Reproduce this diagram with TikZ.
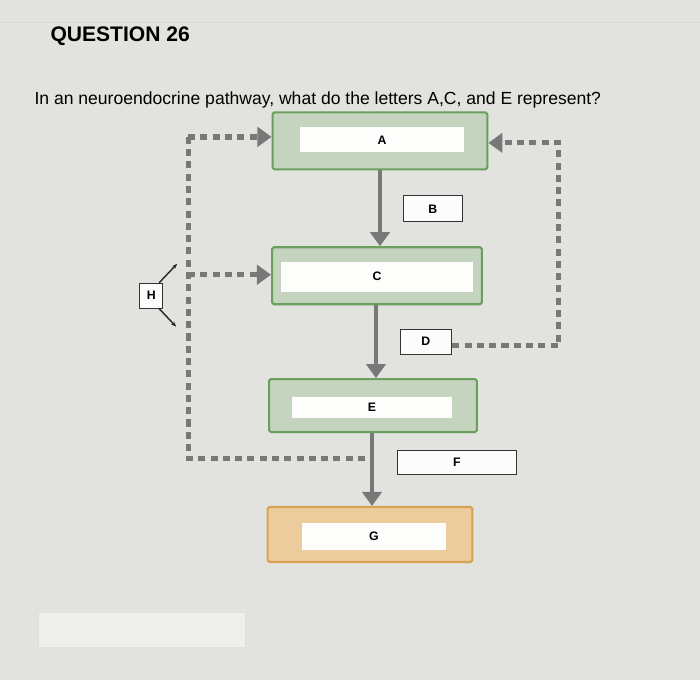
\documentclass[tikz,border=0pt]{standalone}
\usepackage{fontspec}
\setmainfont{Liberation Sans}
\usetikzlibrary{arrows.meta}
\definecolor{bgcol}{RGB}{226,226,222}
\definecolor{stepfill}{RGB}{196,212,190}
\definecolor{stepline}{RGB}{104,160,92}
\definecolor{endfill}{RGB}{236,204,156}
\definecolor{endline}{RGB}{214,162,84}
\definecolor{flowgray}{RGB}{120,120,120}
\begin{document}
\begin{tikzpicture}[x=0.02cm,y=-0.02cm,
		outerbox/.style={draw=stepline, fill=stepfill, line width=1.2pt, rounded corners=1pt},
		endbox/.style={draw=endline, fill=endfill, line width=1.2pt, rounded corners=1pt},
		innerbox/.style={fill=white!92!bgcol, font=\bfseries\scriptsize},
		labelbox/.style={draw=black!80, fill=white!90!bgcol, line width=0.5pt, font=\bfseries\scriptsize},
		flow/.style={draw=flowgray, line width=2.6pt, -{Triangle[width=11pt,length=8pt]}},
		loop/.style={draw=flowgray, line width=3pt, dash pattern=on 4pt off 3pt},
		looparrow/.style={loop, -{Triangle[width=11pt,length=8pt]}}]
	\fill[bgcol] (0,0) rectangle (700,681);
	\draw[black!15] (0,22) -- (700,22);
	\draw[black!12, fill=white!40!bgcol] (38,613) rectangle (245,648);
	\node[anchor=west, font=\bfseries\large] (title) at (44,36) {QUESTION 26};
	\node[anchor=west, font=\normalsize] (question) at (28,100) {In an neuroendocrine pathway, what do the letters A,C, and E represent?};

	% main chain
	\node[outerbox, minimum width=215*0.02cm, minimum height=57*0.02cm] (A) at (380,141) {};
	\node[innerbox, minimum width=165*0.02cm, minimum height=25*0.02cm] at (382,140) {A};
	\node[outerbox, minimum width=210*0.02cm, minimum height=57*0.02cm] (C) at (377,276) {};
	\node[innerbox, minimum width=193*0.02cm, minimum height=30*0.02cm] at (377,277) {C};
	\node[outerbox, minimum width=208*0.02cm, minimum height=53*0.02cm] (E) at (373,406) {};
	\node[innerbox, minimum width=160*0.02cm, minimum height=21*0.02cm] at (372,408) {E};
	\node[endbox, minimum width=205*0.02cm, minimum height=55*0.02cm] (G) at (370,535) {};
	\node[innerbox, minimum width=145*0.02cm, minimum height=27*0.02cm] at (374,537) {G};

	\node[labelbox, minimum width=60*0.02cm, minimum height=26*0.02cm] (B) at (433,209) {B};
	\node[labelbox, minimum width=52*0.02cm, minimum height=25*0.02cm] (D) at (426,342) {D};
	\node[labelbox, minimum width=120*0.02cm, minimum height=24*0.02cm] (F) at (457,463) {F};
	\node[labelbox, minimum width=23*0.02cm, minimum height=25*0.02cm] (H) at (151,296) {H};

	\draw[flow] (380,170) -- (C.north -| 380,0);
	\draw[flow] (376,305) -- (E.north -| 376,0);
	\draw[flow] (372,433) -- (G.north -| 372,0);

	% feedback loops
	\coordinate (lb) at (188,459);
	\coordinate (lt) at (188,137);
	\coordinate (rb) at (559,346);
	\coordinate (rt) at (559,148);
	\draw[loop] (365,459) -- (lb) -- (lt);
	\draw[looparrow] (lt) -- (A.west |- lt);
	\draw[looparrow] (188,275) -- (C.west |- 0,275);
	\draw[looparrow] (D.east |- rb) -- (rb) -- (rt) |- (A.east |- 0,143);

	\draw[-{Stealth[length=3pt]}, black!85, line width=0.8pt] (H.north east) ++(-4,0) -- (177,264);
	\draw[-{Stealth[length=3pt]}, black!85, line width=0.8pt] (H.south east) ++(-4,0) -- (176,327);
\end{tikzpicture}
\end{document}
